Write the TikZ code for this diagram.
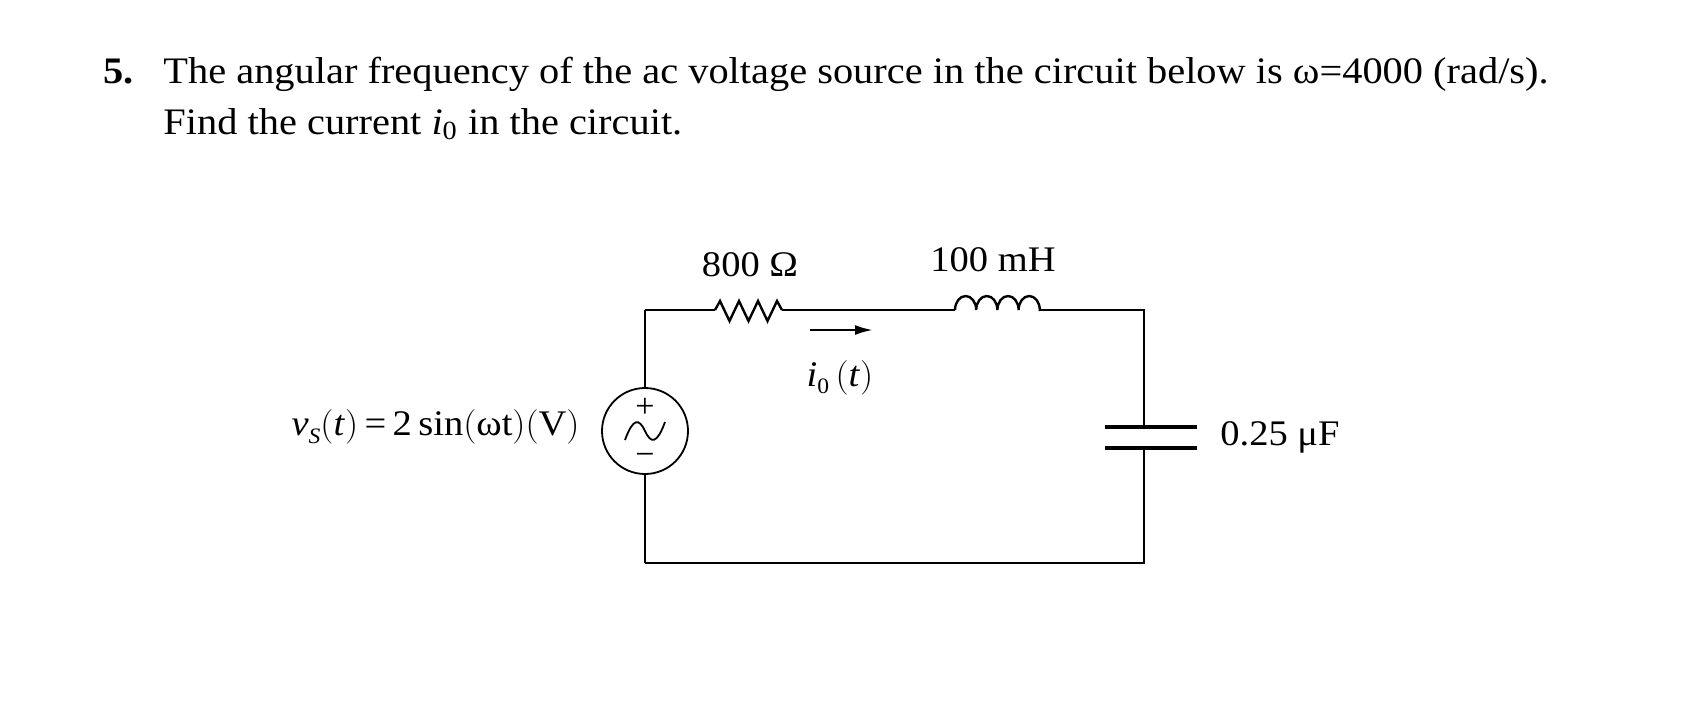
\documentclass[tikz,border=0pt]{standalone}
\usepackage{fontspec}
\setmainfont{Liberation Serif}
\usetikzlibrary{arrows.meta}
\begin{document}
\begin{tikzpicture}[x=0.5pt,y=-0.5pt,
  wire/.style={line width=1.2pt},
  lbl/.style={font=\fontsize{18pt}{21pt}\selectfont, inner sep=0pt, xscale=1.07},
  ttl/.style={font=\fontsize{18.7pt}{22pt}\selectfont, inner sep=0pt, anchor=base west, xscale=1.08}]
\useasboundingbox (0,0) rectangle (1686,708);
% title
\node[ttl] (n5) at (103,83) {\textbf{5.}};
\node[ttl] (t1) at (163,83) {The angular frequency of the ac voltage source in the circuit below is ω=4000 (rad/s).};
\node[ttl] (t2) at (163,134) {Find the current \textit{i}\textsubscript{0} in the circuit.};
% corners
\coordinate (tl) at (645,310);
\coordinate (tr) at (1144,310);
\coordinate (bl) at (645,563);
\coordinate (br) at (1144,563);
\coordinate (r1) at (715,310);
\coordinate (r2) at (782,310);
\coordinate (l1) at (955,310);
\coordinate (l2) at (1040,310);
\coordinate (c1) at (1144,427);
\coordinate (c2) at (1144,448);
% source
\node[draw, circle, minimum size=43pt, inner sep=0pt, line width=0.9pt] (src) at (645,431) {};
\node[font=\fontsize{17pt}{17pt}\selectfont, inner sep=0pt] (plus) at (645,408) {+};
\node[font=\fontsize{17pt}{17pt}\selectfont, inner sep=0pt] (minus) at (645,459) {−};
\draw[line width=0.9pt] (625,440) .. controls (633,418) and (639,418) .. (645,431) .. controls (651,444) and (657,444) .. (665,422);
% wires
\draw[line width=0.9pt] (src.north) -- (tl);
\draw[line width=0.9pt] (src.south) -- (bl);
\draw[wire] (tl) -- (r1);
\draw[wire] (r1) -- ++(5,-9) -- ++(9.5,20) -- ++(9.5,-20) -- ++(9.5,20) -- ++(9.5,-20) -- ++(9.5,20) -- ++(9.5,-20) -- (r2);
\draw[wire] (r2) -- (l1);
\draw[wire] (l1) arc[start angle=180,end angle=360,x radius=10.6,y radius=14]
  arc[start angle=180,end angle=360,x radius=10.6,y radius=14]
  arc[start angle=180,end angle=360,x radius=10.6,y radius=14]
  arc[start angle=180,end angle=360,x radius=10.6,y radius=14] -- (l2);
\draw[wire] (l2) -- (tr) -- (c1);
\draw[wire] (c2) -- (br) -- (bl);
% capacitor
\draw[line width=2.4pt] (1105,427) -- (1197,427);
\draw[line width=2.4pt] (1105,448) -- (1197,448);
% arrow
\coordinate (a1) at (810,330);
\coordinate (a2) at (873,330);
\draw[line width=1.2pt, -{Latex[length=9pt,width=5pt]}] (a1) -- (a2);
% labels
\node[lbl] (lr) at (750,265) {800 Ω};
\node[lbl] (ll) at (993,260) {100 mH};
\node[lbl] (lc) at (1280,437) {0.25 μF};
\node[lbl] (li) at (840,378) {\textit{i}\raisebox{-0.4ex}{\fontsize{11pt}{11pt}\selectfont 0}\,\big(\textit{t}\big)};
\node[lbl, anchor=east, font=\fontsize{18pt}{21pt}\selectfont, xscale=1.0] (lv) at (580,427) {\textit{v}\raisebox{-0.5ex}{\fontsize{11pt}{11pt}\selectfont\itshape S}\big(\textit{t}\big)\,=\,2\,sin\big(ωt\big)\big(V\big)};
\end{tikzpicture}
\end{document}
